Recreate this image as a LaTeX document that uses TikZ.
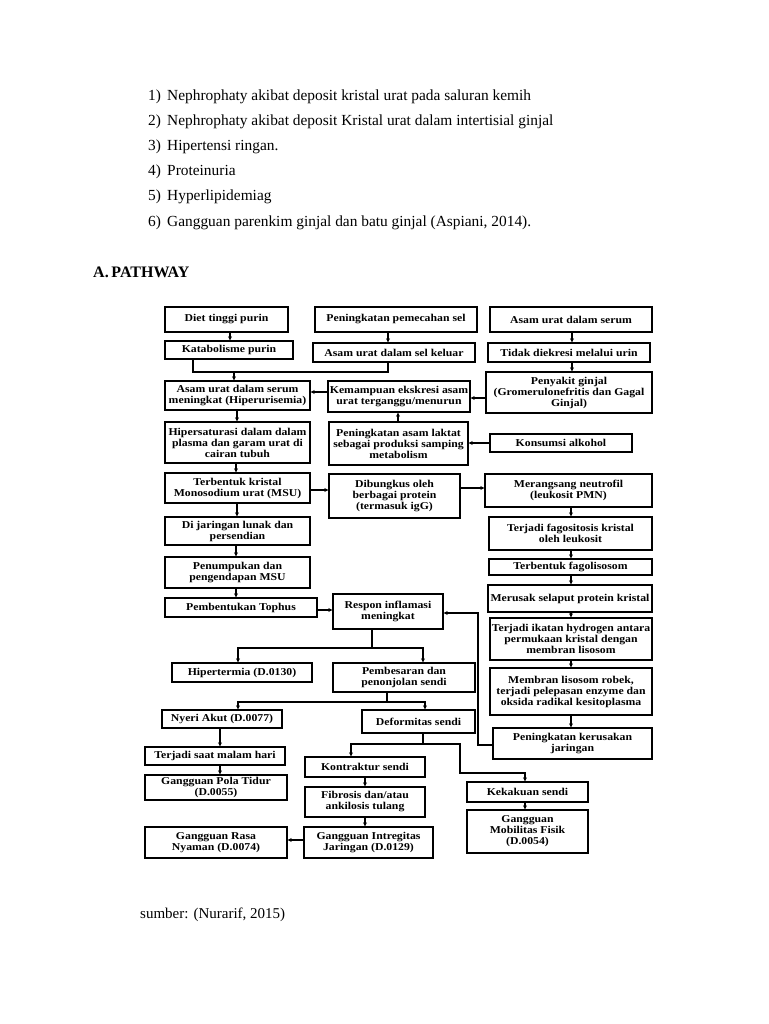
\documentclass[tikz,border=0pt]{standalone}
\usepackage{fontspec}
\setmainfont{Liberation Serif}
\newfontfamily\boxfont[FakeStretch=1.12]{Liberation Serif}
\usetikzlibrary{arrows.meta}
\tikzset{
  box/.style={draw, line width=1.3pt, align=center, inner sep=1pt,
    font=\boxfont\fontsize{10.5}{11}\selectfont\bfseries},
  arr/.style={-{Stealth[length=4pt,width=4pt]}, line width=1.2pt},
  ln/.style={line width=1.2pt},
  body/.style={anchor=base west, inner sep=0pt, font=\fontsize{15.4}{18}\selectfont}
}
\newcommand\mybox[6]{\node[box, minimum width=#4pt, minimum height=#5pt] (#1) at (#2,#3) {#6};}
\begin{document}
\begin{tikzpicture}[x=1pt,y=-1pt]
\useasboundingbox (0,0) rectangle (768,1024);
% top text
\node[body] (l1) at (148,101) {\makebox[19pt][l]{1)}Nephrophaty akibat deposit kristal urat pada saluran kemih};
\node[body] (l2) at (148,126) {\makebox[19pt][l]{2)}Nephrophaty akibat deposit Kristal urat dalam intertisial ginjal};
\node[body] (l3) at (148,151) {\makebox[19pt][l]{3)}Hipertensi ringan.};
\node[body] (l4) at (148,176) {\makebox[19pt][l]{4)}Proteinuria};
\node[body] (l5) at (148,201) {\makebox[19pt][l]{5)}Hyperlipidemiag};
\node[body] (l6) at (148,226) {\makebox[19pt][l]{6)}Gangguan parenkim ginjal dan batu ginjal (Aspiani, 2014).};
\node[body, font=\fontsize{16}{18}\selectfont\bfseries] (title) at (93,277) {A.\,PATHWAY};
\node[body, font=\fontsize{15}{18}\selectfont] (src) at (140,918) {sumber: (Nurarif, 2015)};
% boxes
\mybox{diet}{226.5}{319.5}{123}{25}{Diet tinggi purin}
\mybox{kata}{229}{350}{128}{18}{Katabolisme purin}
\mybox{pemecahan}{396}{319.5}{162}{25}{Peningkatan pemecahan sel}
\mybox{selkeluar}{394}{352.5}{162}{19}{Asam urat dalam sel keluar}
\mybox{serum}{571}{319.5}{162}{25}{Asam urat dalam serum}
\mybox{tidak}{569}{352.5}{162}{19}{Tidak diekresi melalui urin}
\mybox{penyakit}{569}{392.5}{166}{41}{Penyakit ginjal\\(Gromerulonefritis dan Gagal\\Ginjal)}
\mybox{hiperur}{237.5}{395.5}{145}{29}{Asam urat dalam serum\\meningkat (Hiperurisemia)}
\mybox{kemampuan}{399}{396.5}{142}{31}{Kemampuan ekskresi asam\\urat terganggu/menurun}
\mybox{hipersat}{237.5}{442.5}{145}{41}{Hipersaturasi dalam dalam\\plasma dan garam urat di\\cairan tubuh}
\mybox{laktat}{398.5}{443.5}{139}{43}{Peningkatan asam laktat\\sebagai produksi samping\\metabolism}
\mybox{alkohol}{561}{443}{142}{18}{Konsumsi alkohol}
\mybox{msu}{237.5}{488}{145}{30}{Terbentuk kristal\\Monosodium urat (MSU)}
\mybox{dibungkus}{394.5}{496}{131}{44}{Dibungkus oleh\\berbagai protein\\(termasuk igG)}
\mybox{merangsang}{568.5}{490.5}{167}{33}{Merangsang neutrofil\\(leukosit PMN)}
\mybox{jaringan}{237.5}{531}{145}{28}{Di jaringan lunak dan\\persendian}
\mybox{fagositosis}{570.5}{533.5}{163}{33}{Terjadi fagositosis kristal\\oleh leukosit}
\mybox{penumpukan}{237.5}{572.5}{145}{31}{Penumpukan dan\\pengendapan MSU}
\mybox{tophus}{241}{607.5}{152}{19}{Pembentukan Tophus}
\mybox{respon}{388}{611.5}{110}{35}{Respon inflamasi\\meningkat}
\mybox{fagolisosom}{570.5}{567}{163}{16}{Terbentuk fagolisosom}
\mybox{merusak}{570}{598.5}{164}{27}{Merusak selaput protein kristal}
\mybox{ikatan}{571}{639}{162}{42}{Terjadi ikatan hydrogen antara\\permukaan kristal dengan\\membran lisosom}
\mybox{membran}{571}{691.5}{162}{47}{Membran lisosom robek,\\terjadi pelepasan enzyme dan\\oksida radikal kesitoplasma}
\mybox{kerusakan}{572.5}{743.5}{159}{31}{Peningkatan kerusakan\\jaringan}
\mybox{hipertermia}{242}{672.5}{140}{19}{Hipertermia (D.0130)}
\mybox{pembesaran}{404}{677.5}{142}{29}{Pembesaran dan\\penonjolan sendi}
\mybox{nyeri}{222}{719}{120}{18}{Nyeri Akut (D.0077)}
\mybox{deformitas}{418.5}{721.5}{113}{23}{Deformitas sendi}
\mybox{malam}{215}{756}{140}{18}{Terjadi saat malam hari}
\mybox{kontraktur}{365}{767}{120}{20}{Kontraktur sendi}
\mybox{polatidur}{216}{787.5}{142}{25}{Gangguan Pola Tidur\\(D.0055)}
\mybox{fibrosis}{365}{802}{120}{30}{Fibrosis dan/atau\\ankilosis tulang}
\mybox{kekakuan}{527.5}{792}{121}{20}{Kekakuan sendi}
\mybox{intregitas}{368.5}{842.5}{129}{31}{Gangguan Intregitas\\Jaringan (D.0129)}
\mybox{rasanyaman}{216}{842.5}{142}{31}{Gangguan Rasa\\Nyaman (D.0074)}
\mybox{mobilitas}{527.5}{831.5}{121}{43}{Gangguan\\Mobilitas Fisik\\(D.0054)}
% connectors
\draw[arr] (diet.south -| 230,0) -- (kata.north -| 230,0);
\draw[arr] (pemecahan.south -| 388,0) -- (selkeluar.north -| 388,0);
\draw[ln] (kata.south -| 193,0) -- (193,372) -- (388,372) -- (selkeluar.south -| 388,0);
\coordinate (j0) at (234,372);
\draw[arr] (j0) -- (hiperur.north -| j0);
\draw[arr] (serum.south -| 572,0) -- (tidak.north -| 572,0);
\draw[arr] (tidak.south -| 572,0) -- (penyakit.north -| 572,0);
\draw[arr] (penyakit.west |- 0,398) -- (kemampuan.east |- 0,398);
\draw[arr] (kemampuan.west |- 0,392) -- (hiperur.east |- 0,392);
\draw[arr] (laktat.north -| 398,0) -- (kemampuan.south -| 398,0);
\draw[arr] (alkohol.west |- 0,443) -- (laktat.east |- 0,443);
\draw[arr] (hiperur.south -| 237,0) -- (hipersat.north -| 237,0);
\draw[arr] (hipersat.south -| 236,0) -- (msu.north -| 236,0);
\draw[arr] (msu.east |- 0,490) -- (dibungkus.west |- 0,490);
\draw[arr] (dibungkus.east |- 0,488) -- (merangsang.west |- 0,488);
\draw[arr] (msu.south -| 237,0) -- (jaringan.north -| 237,0);
\draw[arr] (jaringan.south -| 236,0) -- (penumpukan.north -| 236,0);
\draw[arr] (penumpukan.south -| 236,0) -- (tophus.north -| 236,0);
\draw[arr] (tophus.east |- 0,610) -- (respon.west |- 0,610);
\draw[arr] (merangsang.south -| 571,0) -- (fagositosis.north -| 571,0);
\draw[arr] (fagositosis.south -| 571,0) -- (fagolisosom.north -| 571,0);
\draw[arr] (fagolisosom.south -| 571,0) -- (merusak.north -| 571,0);
\draw[arr] (merusak.south -| 571,0) -- (ikatan.north -| 571,0);
\draw[arr] (ikatan.south -| 571,0) -- (membran.north -| 571,0);
\draw[arr] (membran.south -| 571,0) -- (kerusakan.north -| 571,0);
\draw[arr] (kerusakan.west |- 0,745) -- (478,745) -- (478,613) -- (respon.east |- 0,613);
\coordinate (j1) at (372,648);
\draw[ln] (respon.south -| j1) -- (j1);
\draw[arr] (j1) -| (hipertermia.north -| 238,0);
\draw[arr] (j1) -| (pembesaran.north -| 423,0);
\coordinate (j2) at (387,702);
\draw[ln] (pembesaran.south -| j2) -- (j2);
\draw[arr] (j2) -| (nyeri.north -| 238,0);
\draw[arr] (j2) -| (deformitas.north -| 425,0);
\draw[arr] (nyeri.south -| 220,0) -- (malam.north -| 220,0);
\draw[arr] (malam.south -| 220,0) -- (polatidur.north -| 220,0);
\coordinate (j3) at (423,744);
\draw[ln] (deformitas.south -| j3) -- (j3);
\draw[arr] (j3) -| (kontraktur.north -| 351,0);
\draw[arr] (j3) -- (460,744) -- (460,773) -| (kekakuan.north -| 525,0);
\draw[arr] (kontraktur.south -| 365,0) -- (fibrosis.north -| 365,0);
\draw[arr] (fibrosis.south -| 365,0) -- (intregitas.north -| 365,0);
\draw[arr] (intregitas.west |- 0,840) -- (rasanyaman.east |- 0,840);
\draw[arr] (kekakuan.south -| 525,0) -- (mobilitas.north -| 525,0);
\end{tikzpicture}
\end{document}
